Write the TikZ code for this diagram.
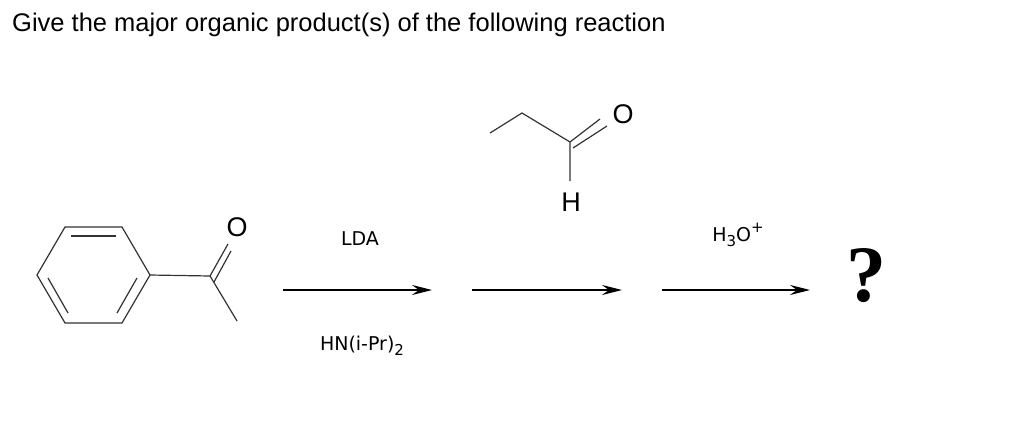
\documentclass[tikz,border=0pt]{standalone}
\usepackage{fontspec}
\setmainfont{Liberation Sans}
\newfontfamily\qfont{Liberation Serif}
\newfontfamily\lfont{DejaVu Sans}
\usetikzlibrary{arrows.meta}
\newcommand{\lsub}[1]{\raisebox{-0.25em}{\fontsize{15}{16}\selectfont #1}}
\newcommand{\lsup}[1]{\raisebox{0.45em}{\fontsize{15}{16}\selectfont #1}}
\begin{document}
\begin{tikzpicture}[x=1pt,y=-1pt,
  bond/.style={line width=1.2pt,color=black!80},
  rxn/.style={line width=1.2pt,-{Stealth[length=20pt,width=10pt,inset=7pt]}},
  lbl/.style={font=\lfont\fontsize{19}{21}\selectfont,inner sep=0pt},
  atom/.style={font=\fontsize{27}{29}\selectfont,inner sep=1pt}]
\useasboundingbox (0,0) rectangle (1024,431);
\node[anchor=west,inner sep=0pt,font=\fontsize{25.5}{28}\selectfont] (title) at (12,25) {Give the major organic product(s) of the following reaction};
% benzene
\coordinate (b1) at (65,227); \coordinate (b2) at (122,227); \coordinate (b3) at (150,275);
\coordinate (b4) at (122,323); \coordinate (b5) at (65,323); \coordinate (b6) at (37,275);
\draw[bond] (b1)--(b2)--(b3)--(b4)--(b5)--(b6)--cycle;
\draw[bond] (71,236)--(116,236);
\draw[bond] (137,278)--(117,313);
\draw[bond] (48,278)--(68,313);
\coordinate (c1) at (210,276); \coordinate (me) at (237,321);
\node[atom] (o1) at (237,227) {O};
\draw[bond] (b3)--(c1)--(me);
\draw[bond] (c1)--(228,244);
\draw[bond] (214,282)--(231,251);
% propanal
\coordinate (p0) at (490,133); \coordinate (p1) at (522,113); \coordinate (p2) at (570,142);
\node[atom] (o2) at (623,114) {O};
\node[atom] (h) at (571,202) {H};
\draw[bond] (p0)--(p1)--(p2)--(570,181);
\draw[bond] (p2)--(600,119);
\draw[bond] (573,148)--(607,126);
% arrows
\coordinate (a1s) at (283,290); \coordinate (a1e) at (432,290);
\coordinate (a2s) at (472,290); \coordinate (a2e) at (622,290);
\coordinate (a3s) at (662,290); \coordinate (a3e) at (810,290);
\draw[rxn] (a1s)--(a1e);
\draw[rxn] (a2s)--(a2e);
\draw[rxn] (a3s)--(a3e);
\node[lbl] (lda) at (360,239) {LDA};
\node[lbl] (amine) at (362,346) {HN(i-Pr)\lsub{2}};
\node[lbl] (h3o) at (738,235) {H\lsub{3}O\lsup{+}};
\node[inner sep=0pt,font=\qfont\bfseries\fontsize{80}{82}\selectfont] (q) at (866,276) {?};
\end{tikzpicture}
\end{document}
